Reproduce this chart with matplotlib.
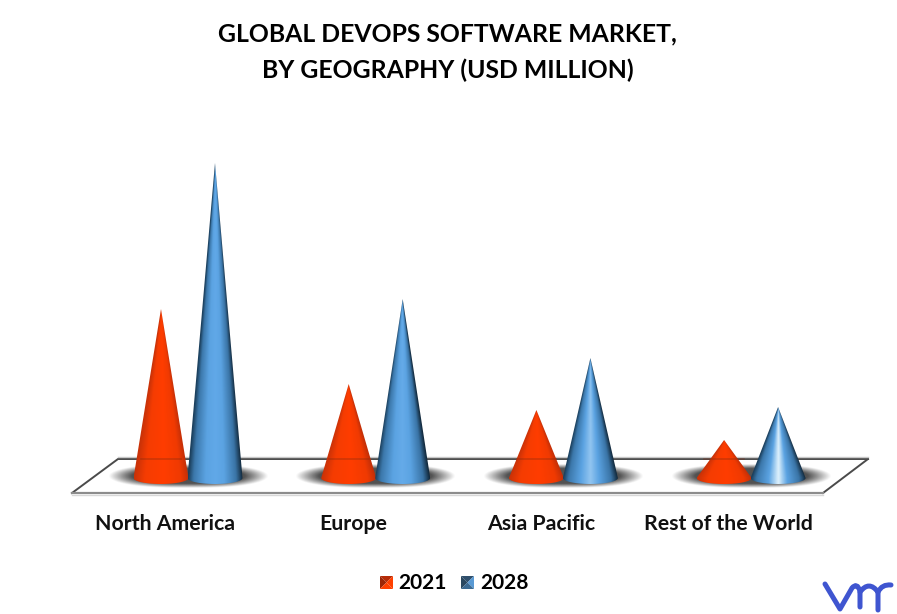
import matplotlib
matplotlib.use("Agg")
import matplotlib.pyplot as plt
import numpy as np
from matplotlib.colors import LinearSegmentedColormap
from matplotlib.patches import Polygon, PathPatch
from matplotlib.path import Path

W, H = 897, 614

categories = ["North America", "Europe", "Asia Pacific", "Rest of the World"]
series_names = ["2021", "2028"]
values_2021 = [169, 94, 68, 38]
values_2028 = [315, 179, 120, 71]

red_cmap = LinearSegmentedColormap.from_list(
    "red", [(0, "#c93208"), (0.2, "#f53c02"), (0.55, "#ff3d00"), (0.85, "#f03a02"), (1, "#c22f08")])


def blue_cmap(glow):
    # glow = how white the highlight in the middle of the cone gets
    mid = np.array([0.38, 0.66, 0.91]) * (1 - glow) + np.array([0.93, 0.98, 1.0]) * glow
    return LinearSegmentedColormap.from_list(
        "blue", [(0, "#1b3f5c"), (0.1, "#3c78ab"), (0.32, "#5ba3e2"), (0.5, tuple(mid)),
                 (0.66, "#5ba3e2"), (0.88, "#3a74a6"), (1, "#12293c")])


blue_glow = [0.0, 0.03, 0.35, 0.9]

plt.rcParams["font.family"] = ["Lato", "DejaVu Sans"]
fig = plt.figure(figsize=(W / 100, H / 100), dpi=100)
ax = fig.add_axes([0, 0, 1, 1])

# x in category units, y in value units, lined up with the pixel frame of the picture
x0_px, step_px, base_px = 188.0, 187.7, 478.0
ax.set_xlim(-x0_px / step_px, (W - x0_px) / step_px)
ax.set_ylim(-(H - base_px), base_px)
ax.axis("off")
offset = 27 / step_px
half_w = 27.5 / step_px
ell_h = 6.0
to_x = lambda px: (px - x0_px) / step_px
to_y = lambda py: base_px - py

# floor
floor = [(to_x(72), to_y(493)), (to_x(118), to_y(459)), (to_x(868), to_y(459)), (to_x(823), to_y(493))]
ax.add_patch(Polygon(floor, closed=True, fc="white", ec="none", zorder=1))
ax.plot([floor[2][0], floor[1][0], floor[0][0]], [floor[2][1], floor[1][1], floor[0][1]],
        color="#4a4a4a", lw=1.4, zorder=2)
ax.plot([floor[2][0], floor[3][0]], [floor[2][1], floor[3][1]], color="#4a4a4a", lw=1.4, zorder=2)
ax.plot([floor[0][0], floor[3][0]], [floor[0][1], floor[3][1]], color="#8c8c8c", lw=1.6, zorder=2)
ax.plot([floor[0][0], floor[3][0]], [floor[0][1] - 2, floor[3][1] - 2], color="#d8d8d8", lw=1.0, zorder=2)
ax.plot([floor[1][0], floor[2][0]], [floor[1][1] + 2, floor[2][1] + 2], color="#c8c8c8", lw=1.0, zorder=2)

# soft shadows on the floor
for i in range(len(categories)):
    gx = np.linspace(i - 0.46, i + 0.46, 240)
    gy = np.linspace(-12, 20, 80)
    X, Y = np.meshgrid(gx, gy)
    d = (np.abs((X - i) / 0.41) ** 2.6 + ((Y - 2.0) / 11.5) ** 2) ** 0.5
    alpha = np.clip((1.05 - d) / 0.38, 0, 1) * 0.85
    rgba = np.zeros(X.shape + (4,))
    rgba[..., :3] = 0.2
    rgba[..., 3] = alpha
    ax.imshow(rgba, extent=(gx[0], gx[-1], gy[0], gy[-1]), origin="lower", aspect="auto",
              interpolation="bilinear", zorder=3)


def draw_cone(cx, height, cmap, zorder):
    xs = np.linspace(cx - half_w, cx + half_w, 120)
    ys = np.linspace(-ell_h - 1, height, max(int(height) * 2, 60))
    X, Y = np.meshgrid(xs, ys)
    # width of the cone at each row, the base ellipse keeps the full width
    hw = half_w * np.clip(1 - Y / height, 0.01, 1)
    u = np.clip((X - cx) / hw, -1, 1) * 0.5 + 0.5
    img = cmap(u)
    im = ax.imshow(img, extent=(xs[0], xs[-1], ys[0], ys[-1]), origin="lower", aspect="auto",
                   interpolation="bilinear", zorder=zorder)
    t = np.linspace(np.pi, 2 * np.pi, 40)
    rim = np.column_stack([cx + half_w * np.cos(t), ell_h * np.sin(t)])
    verts = np.vstack([rim, [[cx, height]], rim[:1]])
    codes = [Path.MOVETO] + [Path.LINETO] * (len(verts) - 2) + [Path.CLOSEPOLY]
    clip = PathPatch(Path(verts, codes), transform=ax.transData, fc="none", ec="none")
    ax.add_patch(clip)
    im.set_clip_path(clip)


for i in range(len(categories)):
    draw_cone(i - offset, values_2021[i], red_cmap, 5)
    draw_cone(i + offset, values_2028[i], blue_cmap(blue_glow[i]), 6)
    # the floor's back edge shows faintly through the red cone
    ax.plot([i - offset - half_w * 0.72, i - offset + half_w * 0.72], [to_y(459), to_y(459)],
            color="#7a2a10", lw=1.2, alpha=0.35, zorder=5.5)

ax.set_xlim(-x0_px / step_px, (W - x0_px) / step_px)
ax.set_ylim(-(H - base_px), base_px)

for i, name in enumerate(categories):
    ax.text(i - 0.12, to_y(524), name, ha="center", va="center", fontsize=15.3,
            fontweight="bold", color="#111111", zorder=8)

ax.text(to_x(447.5), to_y(34), "GLOBAL DEVOPS SOFTWARE MARKET,", ha="center", va="center",
        fontsize=17.8, fontweight="bold", color="black")
ax.text(to_x(447.5), to_y(70), "BY GEOGRAPHY (USD MILLION)", ha="center", va="center",
        fontsize=17.8, fontweight="bold", color="black")


def legend_key(px, colors):
    l, r = to_x(px), to_x(px + 13)
    t, b = to_y(576), to_y(589)
    mx, my = (l + r) / 2, (t + b) / 2
    ax.add_patch(Polygon([(l, t), (r, t), (mx, my)], fc=colors[0], ec="none", zorder=8))
    ax.add_patch(Polygon([(l, t), (l, b), (mx, my)], fc=colors[1], ec="none", zorder=8))
    ax.add_patch(Polygon([(r, t), (r, b), (mx, my)], fc=colors[2], ec="none", zorder=8))
    ax.add_patch(Polygon([(l, b), (r, b), (mx, my)], fc=colors[3], ec="none", zorder=8))


legend_key(380, ["#b52c08", "#9c2606", "#ff4000", "#ff4000"])
legend_key(461, ["#2f4f6c", "#2a4860", "#5a9ad4", "#3b6a92"])
ax.text(to_x(398), to_y(583), series_names[0], ha="left", va="center", fontsize=15, fontweight="bold")
ax.text(to_x(480), to_y(583), series_names[1], ha="left", va="center", fontsize=15, fontweight="bold")

# vm logo
logo = "#3f55d0"


def logo_stroke(points, codes):
    verts = [(to_x(px), to_y(py)) for px, py in points]
    ax.add_patch(PathPatch(Path(verts, codes), fc="none", ec=logo, lw=3.6, capstyle="round",
                           joinstyle="round", zorder=8))


M, L, C = Path.MOVETO, Path.LINETO, Path.CURVE3
logo_stroke([(825, 584), (840, 609), (852, 588), (857, 582), (860, 591), (860, 607)], [M, L, L, C, C, L])
logo_stroke([(860, 592), (869, 580), (878, 592), (878, 610)], [M, C, C, L])
logo_stroke([(878, 592), (882, 584), (891, 585)], [M, C, C])

fig.savefig("out.png", dpi=100)
plt.close(fig)
